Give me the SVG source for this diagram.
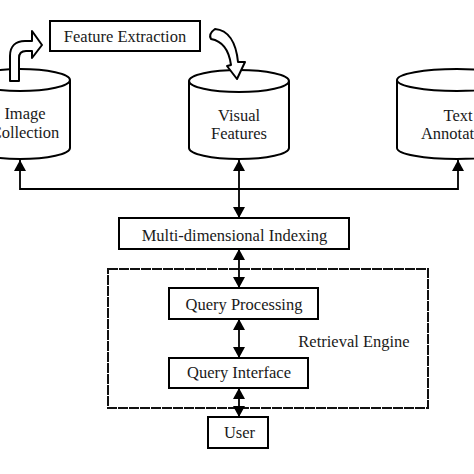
<svg xmlns="http://www.w3.org/2000/svg" width="474" height="474" viewBox="0 0 474 474">
<style>
text{font-family:"Liberation Serif","Times New Roman",serif;font-size:16.5px;fill:#1a1a1a;text-anchor:middle}
.box{fill:#fff;stroke:#000;stroke-width:2}
.cyl{fill:#fff;stroke:#000;stroke-width:2}
.blk{fill:#fff;stroke:#000;stroke-width:2;stroke-linejoin:round}
.con{fill:none;stroke:#000;stroke-width:1.8}
.dash{fill:none;stroke:#111;stroke-width:2;stroke-dasharray:10 1}
</style>
<defs>
<marker id="ah" markerUnits="userSpaceOnUse" markerWidth="12" markerHeight="12" viewBox="0 0 12 12" refX="11" refY="6" orient="auto-start-reverse">
<path d="M0,0 L11,6 L0,12 Z" fill="#000"/>
</marker>
</defs>
<rect class="dash" x="108" y="269" width="320" height="139"/>
<text x="354" y="347">Retrieval Engine</text>
<g id="connectors">
<path class="con" d="M20,160 L20,189 L458,189 L458,160" marker-start="url(#ah)" marker-end="url(#ah)"/>
<line class="con" x1="239" y1="160" x2="239" y2="218" marker-start="url(#ah)" marker-end="url(#ah)"/>
<line class="con" x1="239" y1="249" x2="239" y2="288" marker-start="url(#ah)" marker-end="url(#ah)"/>
<line class="con" x1="239" y1="319" x2="239" y2="358" marker-start="url(#ah)" marker-end="url(#ah)"/>
<line class="con" x1="239" y1="388" x2="239" y2="417" marker-start="url(#ah)" marker-end="url(#ah)"/>
</g>
<g id="image-collection">
<path class="cyl" d="M-30,80 L-30,148 A50,11 0 0 0 70,148 L70,80"/>
<ellipse class="cyl" cx="20" cy="80" rx="50" ry="11"/>
<text x="25" y="119">Image</text>
<text x="25" y="138">Collection</text>
</g>
<g id="visual-features">
<path class="cyl" d="M189,81 L189,148 A50,11 0 0 0 289,148 L289,81"/>
<ellipse class="cyl" cx="239" cy="81" rx="50" ry="11"/>
<text x="239" y="121">Visual</text>
<text x="239" y="139">Features</text>
</g>
<g id="text-annotation">
<path class="cyl" d="M397,80 L397,148 A60,11 0 0 0 517,148 L517,80"/>
<ellipse class="cyl" cx="457" cy="80" rx="60" ry="11"/>
<text x="458" y="121">Text</text>
<text x="458" y="139">Annotation</text>
</g>
<g id="feature-extraction">
<rect class="box" x="50" y="21" width="150" height="30"/>
<text x="125" y="42">Feature Extraction</text>
</g>
<g id="arrow-left">
<path class="blk" d="M10,81 L10,56 C10,46 16,41 25,41 L32,41 L32,31 L42,45 L32,58 L32,51 L26,51 C21,51 19,54 19,58 L19,81 Z"/>
</g>
<g id="arrow-right">
<path class="blk" d="M215,29 C228,30 236,42 238,62 L245,62 L237,79 L227,66 L231,65 C229,50 222,41 211,39 Q208,34 215,29 Z"/>
</g>
<g id="indexing">
<rect class="box" x="119" y="218" width="230" height="31"/>
<text x="234.5" y="241">Multi-dimensional Indexing</text>
</g>
<g id="query-processing">
<rect class="box" x="169" y="288" width="149" height="31"/>
<text x="244" y="310">Query Processing</text>
</g>
<g id="query-interface">
<rect class="box" x="169" y="358" width="139" height="30"/>
<text x="239" y="378">Query Interface</text>
</g>
<g id="user">
<rect class="box" x="208" y="417" width="60" height="31"/>
<text x="239.5" y="438">User</text>
</g>
</svg>
